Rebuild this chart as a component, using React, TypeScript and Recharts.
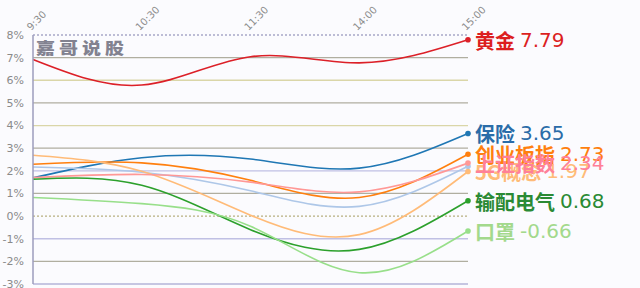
import React from 'react';
import { LineChart, Line, XAxis, YAxis, ReferenceLine, LabelList } from 'recharts';

const times = ['9:30', '10:30', '11:30', '14:00', '15:00'];

const gold = [6.92, 5.79, 7.04, 6.77, 7.79];
const insurance = [1.69, 2.58, 2.52, 2.12, 3.65];
const chinext = [2.29, 2.35, 1.58, 0.82, 2.73];
const fiveG = [2.69, 1.98, 0.04, -0.82, 1.97];
const lightBlue = [2.17, 1.94, 1.12, 0.43, 2.2];
const shanghai = [1.7, 1.84, 1.5, 1.07, 2.34];
const power = [1.63, 1.36, -0.6, -1.47, 0.68];
const mask = [0.82, 0.55, -0.45, -2.5, -0.66];

const yTicks = [-3, -2, -1, 0, 1, 2, 3, 4, 5, 6, 7, 8];

const data = times.map((time, i) => ({
  time,
  gold: gold[i],
  insurance: insurance[i],
  chinext: chinext[i],
  fiveG: fiveG[i],
  lightBlue: lightBlue[i],
  shanghai: shanghai[i],
  power: power[i],
  mask: mask[i],
}));

// line order = draw order, so 上证指数 label ends up on top of its neighbours
const series = [
  { key: 'gold', name: '黄金', stroke: '#dc2028', text: '#dc1f1f' },
  { key: 'insurance', name: '保险', stroke: '#1f77b4', text: '#2a6ca8' },
  { key: 'lightBlue', name: '', stroke: '#aec7e8', text: '#aec7e8' },
  { key: 'chinext', name: '创业板指', stroke: '#ff7f0e', text: '#ff7f0e' },
  { key: 'fiveG', name: '5G概念', stroke: '#ffbb78', text: '#ffbb78' },
  { key: 'shanghai', name: '上证指数', stroke: '#ff9896', text: '#ff8098' },
  { key: 'power', name: '输配电气', stroke: '#2ca02c', text: '#2a8a34' },
  { key: 'mask', name: '口罩', stroke: '#98df8a', text: '#a3d98c' },
];

const gridStyle = (v: number) => {
  if (v === 8) return { stroke: '#a8a8c8', dash: '2 2' };
  if (v === 0) return { stroke: '#b8b080', dash: '2 2' };
  if (v === 6 || v === 4) return { stroke: '#dad6a8', dash: undefined };
  if (v === 2 || v === -1) return { stroke: '#c0c0e4', dash: undefined };
  if (v === -3) return { stroke: '#b4b4d8', dash: undefined };
  return { stroke: '#b0aea0', dash: undefined };
};

const TimeTick = (props: any) => {
  const { x, y, payload } = props;
  return (
    <text
      x={x - 2}
      y={y}
      transform={`rotate(-45 ${x - 2} ${y})`}
      fill="#8c8c8c"
      fontSize={10}
      fontFamily="DejaVu Sans, sans-serif"
      textAnchor="start"
    >
      {payload.value}
    </text>
  );
};

const last = times.length - 1;

const makeLabel = (name: string, color: string) => (props: any) => {
  const { x, y, value, index } = props;
  if (index !== last || !name) return null;
  return (
    <text x={x + 7} y={y} dominantBaseline="central" fill={color} fontSize={20}>
      <tspan fontFamily="'Noto Sans CJK SC', sans-serif" fontWeight="bold">{name}</tspan>
      <tspan fontFamily="'DejaVu Sans', sans-serif" dx={5}>{Number(value).toFixed(2)}</tspan>
    </text>
  );
};

const makeDot = (color: string) => (props: any) => {
  const { cx, cy, index } = props;
  if (index !== last) return <g key={`d${index}`} />;
  return <circle key={`d${index}`} cx={cx} cy={cy} r={2.8} fill={color} stroke="none" />;
};

export default function App() {
  return (
    <div style={{ position: 'absolute', left: 0, top: 0, width: 640, height: 288, background: '#fbfbfe' }}>
      <LineChart width={640} height={288} data={data} margin={{ top: 0, right: 172, bottom: 4, left: 0 }}>
        <XAxis
          dataKey="time"
          orientation="top"
          height={35}
          axisLine={false}
          tickLine={false}
          tickSize={0}
          tickMargin={4}
          interval={0}
          tick={<TimeTick />}
        />
        <YAxis
          domain={[-3, 8]}
          ticks={yTicks}
          width={33}
          interval={0}
          tickFormatter={(v) => `${v}%`}
          tick={{ fill: '#8a8a8a', fontSize: 11, fontFamily: 'DejaVu Sans, sans-serif' }}
          tickLine={false}
          tickMargin={3}
          axisLine={{ stroke: '#9c9cbc', strokeWidth: 1.5 }}
        />
        {yTicks.map((v) => {
          const g = gridStyle(v);
          return <ReferenceLine key={v} y={v} stroke={g.stroke} strokeWidth={1.3} strokeDasharray={g.dash} />;
        })}
        {series.map((s) => (
          <Line
            key={s.key}
            type="natural"
            dataKey={s.key}
            stroke={s.stroke}
            strokeWidth={1.6}
            dot={makeDot(s.stroke)}
            activeDot={false}
            isAnimationActive={false}
          >
            <LabelList dataKey={s.key} content={makeLabel(s.name, s.text)} />
          </Line>
        ))}
      </LineChart>
      <div
        style={{
          position: 'absolute',
          left: 36,
          top: 38,
          fontFamily: "'Noto Sans CJK SC', sans-serif",
          fontWeight: 900,
          fontSize: 19,
          letterSpacing: 4,
          color: '#828290',
          transform: 'scaleY(0.85)',
          transformOrigin: 'left top',
          lineHeight: '22px',
        }}
      >
        嘉哥说股
      </div>
    </div>
  );
}
